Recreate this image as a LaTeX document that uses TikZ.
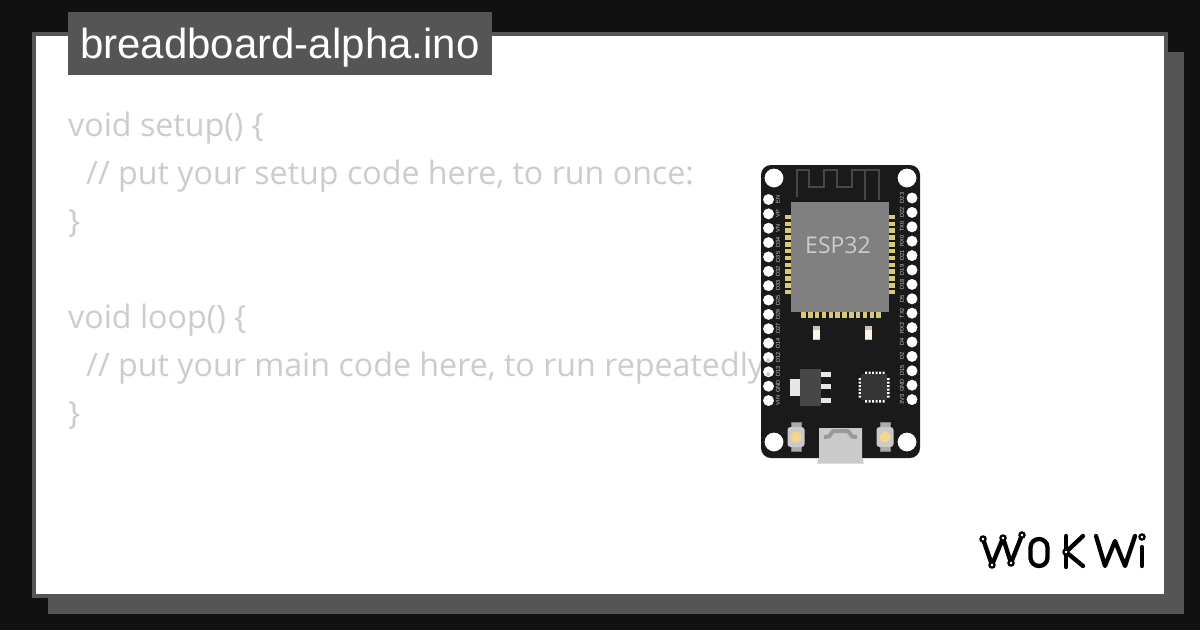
\documentclass[tikz,border=0pt]{standalone}
\usepackage{fontspec}
\setmainfont{Liberation Sans}
\newfontfamily\codefont{Open Sans}
\definecolor{bgdark}{HTML}{111111}
\definecolor{frameg}{HTML}{555555}
\definecolor{codeg}{HTML}{CCCCCC}
\definecolor{boardk}{HTML}{1A1A1A}
\definecolor{chipg}{HTML}{808080}
\definecolor{padg}{HTML}{D8C974}
\definecolor{antg}{HTML}{484848}
\definecolor{regg}{HTML}{474747}
\definecolor{leadg}{HTML}{E6E6E6}
\definecolor{btng}{HTML}{CACACA}
\definecolor{btny}{HTML}{F7D58F}
\definecolor{usbg}{HTML}{999999}
\tikzset{
  codeline/.style={anchor=base west,inner sep=0pt,text=codeg,font=\codefont\fontsize{32.2}{32.2}\selectfont},
  pinlabel/.style={rotate=90,inner sep=0pt,text=codeg,font=\fontsize{5.6}{5.6}\selectfont},
  pad/.style={fill=padg,draw=none},
  logo/.style={line width=4.3pt,line cap=round,line join=round,draw=black},
  logodot/.style={fill=white,draw=black,line width=2.2pt},
  antenna/.style={draw=antg,line width=1.2pt,fill=none},
}
\begin{document}
\begin{tikzpicture}[x=1pt,y=-1pt]
\useasboundingbox (0,0) rectangle (1200,630);
\fill[bgdark] (0,0) rectangle (1200,630);
\fill[frameg] (48,52) rectangle (1184,614);
\fill[frameg] (32,32) rectangle (1168,598);
\fill[white] (36,36) rectangle (1164,594);
\fill[frameg] (68,12) rectangle (492,75);
\node[anchor=base west,inner sep=0pt,text=white,font=\fontsize{42}{42}\selectfont] (title) at (80,58) {breadboard-alpha.ino};
% code
\node[codeline] (c1) at (68,136) {void setup() \{};
\node[codeline] (c2) at (86,184) {// put your setup code here, to run once:};
\node[codeline] (c3) at (68,232) {\}};
\node[codeline] (c4) at (68,328) {void loop() \{};
\node[codeline] (c5) at (86,376) {// put your main code here, to run repeatedly:};
\node[codeline] (c6) at (68,424) {\}};
% board with real holes: the page shows through them
\fill[boardk,even odd rule]
  [rounded corners=10pt] (761,165) rectangle (920,458) [sharp corners]
  (774,178) circle (9.5) (907,178) circle (9.5) (774,442) circle (9.5) (907,442) circle (9.5)
  \foreach \i in {0,...,14}{
    (768.5,199.5+14.36*\i) circle (5.6)
    (912,198+14.4*\i) circle (5.6)
  };
% pin labels left
\foreach \t [count=\i from 0] in {EN,VP,VN,D34,D35,D32,D33,D25,D26,D27,D14,D12,D13,GND,VIN}{
  \node[pinlabel] (l\i) at (778,199.5+14.36*\i) {\t};
}
% pin labels right
\foreach \t [count=\i from 0] in {D23,D22,TX0,RX0,D21,D19,D18,D5,TX2,RX2,D4,D2,D15,GND,3V3}{
  \node[pinlabel] (r\i) at (902,198+14.4*\i) {\t};
}
% antenna
\draw[antenna] (797,197) -- (797,170) -- (809,170) -- (809,187) -- (824,187) -- (824,170) -- (837,170) -- (837,187) -- (852,187) -- (852,170) -- (879,170) -- (879,200);
\draw[antenna] (865,170) -- (865,200);
% chip pads
\foreach \i in {0,...,11}{
  \pgfmathsetmacro{\py}{217+6.83*\i}
  \fill[pad] (785,\py-2.2) rectangle (792,\py+2.2);
  \fill[pad] (888,\py-2.2) rectangle (895,\py+2.2);
  \pgfmathsetmacro{\px}{803.5+6.83*\i}
  \fill[pad] (\px-2.2,311) rectangle (\px+2.2,318);
}
% chip
\fill[chipg] (791,202) rectangle (889,312);
\node[inner sep=0pt,text=codeg,font=\codefont\fontsize{23}{23}\selectfont] (esp) at (838,245) {ESP32};
% small capacitors
\foreach \x in {813,865}{
  \fill[leadg!85!black] (\x,326) rectangle (\x+6.5,340);
  \fill[white!90!orange] (\x,330) rectangle (\x+6.5,339);
}
% regulator
\fill[leadg] (790,379) rectangle (801,396);
\fill[leadg] (820,372) rectangle (831,377);
\fill[leadg] (820,384) rectangle (831,389);
\fill[leadg] (820,398) rectangle (831,403);
\fill[regg] (800,369) rectangle (821,406);
% QFN
\fill[white] \foreach \i in {0,...,5}{
  (865+3.5*\i,371.5) rectangle ++(2.2,3)
  (865+3.5*\i,399.5) rectangle ++(2.2,3)
  (858.5,378+3.5*\i) rectangle ++(3,2.2)
  (886.5,378+3.5*\i) rectangle ++(3,2.2)
};
\fill[regg!75!black] (861,374) rectangle (887,400);
% buttons
\foreach \x in {796,885}{
  \filldraw[fill=btng!85!black,draw=chipg,line width=0.6pt] (\x-5,422) rectangle (\x+5,451);
  \fill[btng,rounded corners=3pt] (\x-8.5,427) rectangle (\x+8.5,447);
  \fill[btny] (\x,437) circle (5.6);
}
% usb
\fill[btng] (819,428) -- (862,428) -- (862,458) -- (864,463.5) -- (817,463.5) -- (819,458) -- cycle;
\draw[usbg,line width=4pt,line join=round] (824,437) -- (829,436.5) -- (833,431) -- (848,431) -- (852,436.5) -- (857,437);
% logo
\draw[logo] (983,539) -- (992,565) -- (1003,538) -- (1011,563) -- (1022,535);
\draw[logo,rounded corners=8.4pt] (1030.5,539) rectangle (1047.5,566);
\draw[logo] (1066,536) -- (1066,567);
\draw[logo] (1083,536) -- (1066,552) -- (1083,566);
\draw[logo] (1096,536) -- (1105,566) -- (1115,541) -- (1125,566) -- (1135,536);
\draw[logo] (1142,547) -- (1142,566);
\foreach \x/\y in {983/539,992/565,1003/538,1011/563,1022/535,1066/552,1142/537}
  \filldraw[logodot] (\x,\y) circle (2.6);
\end{tikzpicture}
\end{document}
